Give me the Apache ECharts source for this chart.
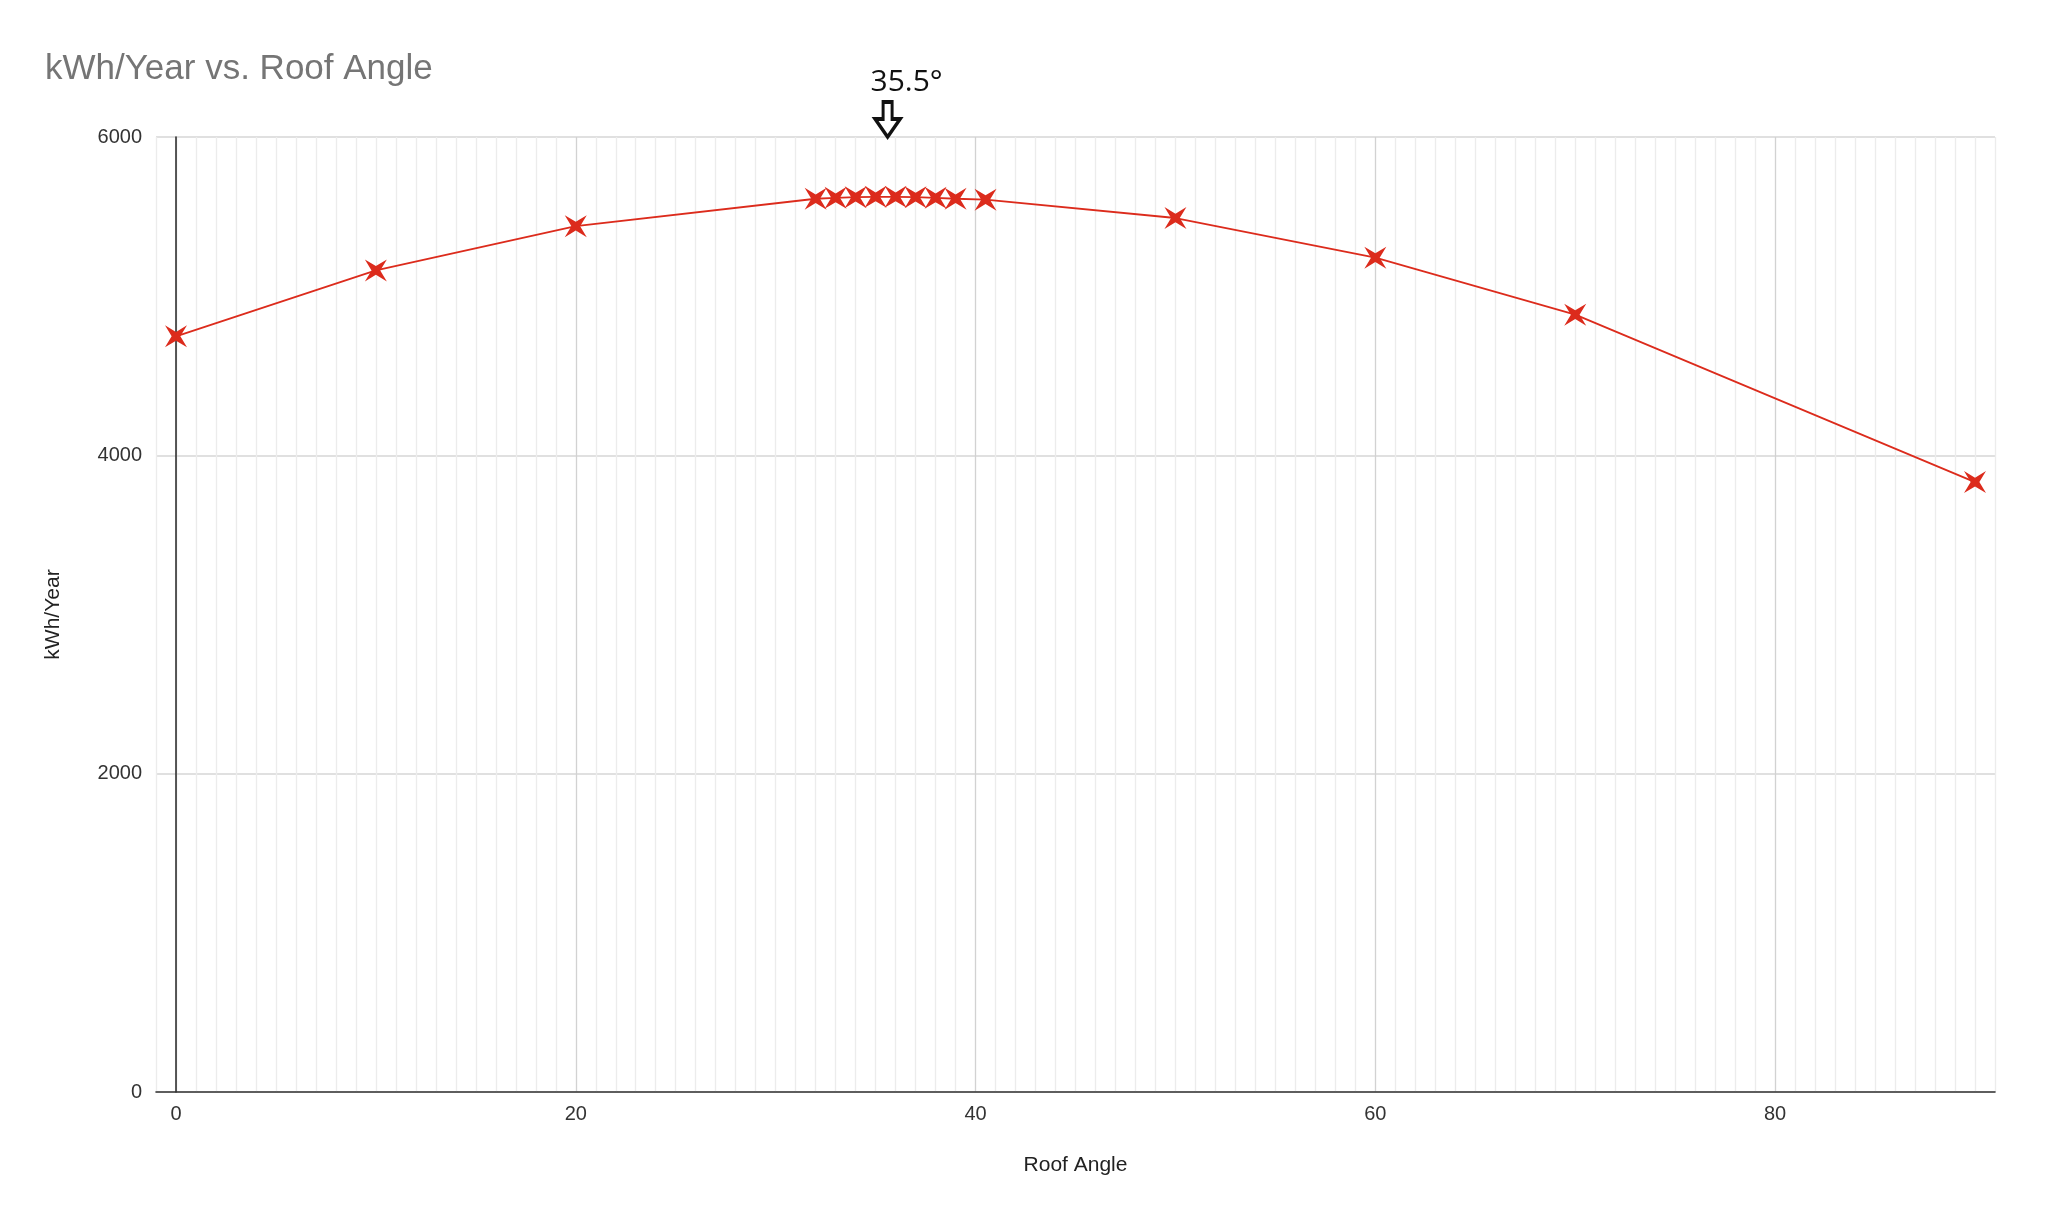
<!DOCTYPE html>
<html>
<head>
<meta charset="utf-8">
<script src="https://cdn.jsdelivr.net/npm/echarts@6/dist/echarts.min.js"></script>
<style>
  html, body { margin: 0; padding: 0; background: #fff; }
  #main { width: 2048px; height: 1213px; }
</style>
</head>
<body>
<div id="main"></div>
<script>
// roof angle (deg) and yearly yield
const angles = [0, 10, 20, 32, 33, 34, 35, 36, 37, 38, 39, 40.5, 50, 60, 70, 90];
const kwhYear = [4748, 5162, 5440, 5612, 5618, 5622, 5624, 5624, 5622, 5618, 5612, 5606, 5491, 5242, 4884, 3832];
const xTicks = [0, 20, 40, 60, 80];
const yTicks = [0, 2000, 4000, 6000];
const peakAngle = 35.5;

const red = '#dc2b1c';
const starPath = 'path://M2.93,2.93 L10,7.2 L17.07,2.93 L12.8,10 L17.07,17.07 L10,12.8 L2.93,17.07 L7.2,10 Z';
const arrowPath = 'path://M8,0 L17,0 L17,17 L25,17 L12.5,35 L0,17 L8,17 Z';

// one vertical line per degree, darker at the labelled ticks
const xMin = -1, xMax = 91;
const vColors = [];
for (let v = xMin; v <= xMax; v++) {
  vColors.push(xTicks.indexOf(v) >= 0 ? '#d2d2d2' : '#ececec');
}

const points = angles.map((a, i) => [a, kwhYear[i]]);

const chart = echarts.init(document.getElementById('main'));
chart.setOption({
  animation: false,
  title: {
    text: 'kWh/Year vs. Roof Angle',
    left: 40,
    top: 47,
    textStyle: { fontFamily: 'Liberation Sans', fontSize: 35, fontWeight: 'normal', color: '#757575' }
  },
  grid: { left: 156, right: 53, top: 137, bottom: 121 },
  xAxis: {
    type: 'value',
    min: xMin,
    max: xMax,
    interval: 1,
    name: 'Roof Angle',
    nameLocation: 'middle',
    nameGap: 63,
    nameTextStyle: { fontFamily: 'Liberation Sans', fontSize: 21, color: '#222' },
    axisLine: { show: true, onZero: false, lineStyle: { color: '#333', width: 1.6 } },
    axisTick: { show: false },
    axisLabel: {
      margin: 12,
      fontFamily: 'Liberation Sans',
      fontSize: 20,
      color: '#333',
      formatter: v => (xTicks.indexOf(v) >= 0 ? String(v) : '')
    },
    splitLine: { show: true, lineStyle: { color: vColors, width: 1.3 } }
  },
  yAxis: {
    type: 'value',
    min: 0,
    max: 6000,
    interval: 2000,
    name: 'kWh/Year',
    nameLocation: 'middle',
    nameGap: 92,
    nameRotate: 90,
    nameTextStyle: { fontFamily: 'Liberation Sans', fontSize: 21, color: '#222' },
    axisLine: { show: true, onZero: true, lineStyle: { color: '#333', width: 1.6 } },
    axisTick: { show: false },
    axisLabel: {
      margin: 14,
      fontFamily: 'Liberation Sans',
      fontSize: 20,
      color: '#333',
      formatter: v => (yTicks.indexOf(v) >= 0 ? String(v) : '')
    },
    splitLine: { show: true, lineStyle: { color: '#d6d6d6', width: 1.6 } }
  },
  series: [{
    type: 'line',
    data: points,
    symbol: starPath,
    symbolSize: 22,
    showAllSymbol: true,
    lineStyle: { color: red, width: 1.8 },
    itemStyle: { color: red },
    z: 5,
    markPoint: {
      silent: true,
      symbol: arrowPath,
      symbolSize: [25, 35],
      symbolOffset: [2, -17.5],
      itemStyle: { color: '#fff', borderColor: '#111', borderWidth: 3.5 },
      label: {
        show: true,
        position: 'top',
        distance: 2,
        offset: [19, 0],
        fontFamily: 'Open Sans',
        fontSize: 30,
        lineHeight: 30,
        color: '#111',
        formatter: () => peakAngle + '°'
      },
      data: [{ coord: [peakAngle, 6000] }]
    }
  }]
});
</script>
</body>
</html>
